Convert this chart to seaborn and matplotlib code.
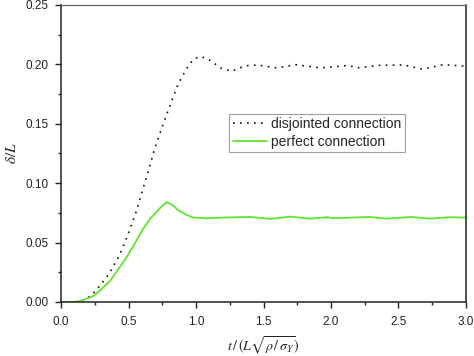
import matplotlib
matplotlib.use("Agg")
import matplotlib.pyplot as plt
from matplotlib.ticker import MultipleLocator
import seaborn as sns

# ── data ─────────────────────────────────────────────────────
t_disjoint = [0.0, 0.12, 0.18, 0.235, 0.29, 0.35, 0.43, 0.49, 0.556, 0.63,
              0.696, 0.763, 0.815, 0.869, 0.948, 0.99, 1.035, 1.08, 1.128,
              1.18, 1.227, 1.27, 1.36, 1.454, 1.6, 1.74, 1.92, 2.12, 2.21,
              2.36, 2.54, 2.68, 2.83, 3.0]
d_disjoint = [0.0, 0.0, 0.002, 0.0067, 0.014, 0.0227, 0.0387, 0.055, 0.076, 0.104,
              0.130, 0.152, 0.168, 0.184, 0.200, 0.205, 0.2065, 0.205, 0.2015,
              0.197, 0.1953, 0.1944, 0.1987, 0.1995, 0.197, 0.1997, 0.197, 0.199, 0.1972,
              0.1992, 0.1995, 0.1959, 0.1997, 0.1985]

t_perfect = [0.0, 0.1, 0.15, 0.24, 0.3, 0.363, 0.42, 0.487, 0.55, 0.61, 0.66,
             0.709, 0.75, 0.783, 0.82, 0.87, 0.93, 0.98, 1.08, 1.2, 1.4, 1.55,
             1.7, 1.84, 1.97, 2.02, 2.15, 2.29, 2.41, 2.59, 2.73, 2.88, 3.0]
d_perfect = [0.0, 0.0, 0.001, 0.005, 0.011, 0.0177, 0.027, 0.038, 0.05, 0.062, 0.07,
             0.076, 0.081, 0.0839, 0.082, 0.077, 0.0732, 0.071, 0.0704, 0.071, 0.0715, 0.0699,
             0.0718, 0.0701, 0.0713, 0.0704, 0.071, 0.0715, 0.0701, 0.0715, 0.0701, 0.0713, 0.071]

sns.set_style("ticks")
plt.rcParams["font.family"] = ["Liberation Sans", "DejaVu Sans"]
plt.rcParams["mathtext.fontset"] = "stix"

fig = plt.figure(figsize=(4.74, 3.56), dpi=100)
ax = fig.add_axes([0.129, 0.152, 0.854, 0.834])

sns.lineplot(x=t_disjoint, y=d_disjoint, ax=ax, color="#111111",
             linewidth=1.2, linestyle=(0, (1, 3.2)), label="disjointed connection",
             sort=False)
sns.lineplot(x=t_perfect, y=d_perfect, ax=ax, color="#5fe62c",
             linewidth=1.3, label="perfect connection", sort=False)

ax.set_xlim(0, 3.0)
ax.set_ylim(0, 0.25)
ax.xaxis.set_major_locator(MultipleLocator(0.5))
ax.xaxis.set_minor_locator(MultipleLocator(0.25))
ax.yaxis.set_major_locator(MultipleLocator(0.05))
ax.yaxis.set_minor_locator(MultipleLocator(0.025))
ax.xaxis.set_major_formatter(lambda v, p: f"{v:.1f}")
ax.yaxis.set_major_formatter(lambda v, p: f"{v:.2f}")

ax.tick_params(which="major", direction="out", length=4.5, width=1,
               labelsize=8.5, color="#222222", labelcolor="#222222")
ax.tick_params(axis="x", which="major", pad=6)
ax.tick_params(axis="y", which="major", pad=4.5)
ax.tick_params(which="minor", direction="out", length=2.5, width=1, color="#222222")
ax.tick_params(top=False, right=False, which="both")

for side in ["left", "bottom", "right"]:
    ax.spines[side].set_linewidth(1.1)
    ax.spines[side].set_color("#222222")
ax.spines["top"].set_linewidth(0.9)
ax.spines["top"].set_color("#666666")

ax.set_xlabel(r"$t\,/\,(L\sqrt{\rho\,/\,\sigma_Y})$", fontsize=10, color="#222222", labelpad=5)
ax.set_ylabel(r"$\delta/L$", fontsize=11, color="#222222", labelpad=5)

leg = ax.legend(loc="upper left", bbox_to_anchor=(0.415, 0.634), borderaxespad=0,
                fontsize=10, frameon=True, fancybox=False, handlelength=2.5,
                labelspacing=0.25, borderpad=0.25, handletextpad=0.3)
leg.get_frame().set_edgecolor("#888888")
leg.get_frame().set_linewidth(0.8)

fig.savefig("out.png", dpi=100)
